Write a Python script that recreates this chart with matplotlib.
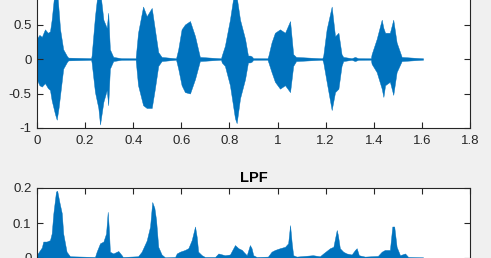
import matplotlib
matplotlib.use("Agg")
import matplotlib.pyplot as plt
import numpy as np

# ---- data: envelope of the raw waveform (time s, upper, lower) ----
wave_t = [0.000, 0.010, 0.020, 0.033, 0.045, 0.054, 0.061, 0.075, 0.082, 0.090, 0.096, 0.109, 0.125, 0.130,
          0.225, 0.227, 0.241, 0.255, 0.262, 0.276, 0.290, 0.296, 0.303, 0.317, 0.350,
          0.410, 0.420, 0.441, 0.456, 0.477, 0.490, 0.504, 0.518,
          0.578, 0.587, 0.601, 0.615, 0.636, 0.657, 0.677,
          0.765, 0.768, 0.781, 0.802, 0.823, 0.830, 0.844, 0.865, 0.877, 0.885, 0.892, 0.899,
          0.958, 0.962, 0.975, 0.989, 1.010, 1.031, 1.052, 1.065, 1.077,
          1.186, 1.190, 1.204, 1.225, 1.239, 1.253, 1.266, 1.273,
          1.308, 1.322, 1.335,
          1.388, 1.391, 1.412, 1.433, 1.440, 1.447, 1.467, 1.481, 1.495, 1.516, 1.605]
wave_hi = [0.30, 0.35, 0.32, 0.43, 0.38, 0.40, 0.57, 1.05, 1.05, 0.70, 0.43, 0.14, 0.04, 0.02,
           0.012, 0.05, 0.62, 1.05, 1.00, 0.57, 0.45, 0.67, 0.14, 0.03, 0.012,
           0.01, 0.38, 0.76, 0.62, 0.74, 0.43, 0.10, 0.03,
           0.01, 0.14, 0.43, 0.50, 0.55, 0.33, 0.03,
           0.01, 0.05, 0.19, 0.57, 1.05, 0.90, 0.57, 0.29, 0.05, 0.05, 0.04, 0.012,
           0.01, 0.05, 0.24, 0.38, 0.43, 0.38, 0.55, 0.07, 0.03,
           0.01, 0.05, 0.43, 0.76, 0.33, 0.38, 0.07, 0.03,
           0.012, 0.03, 0.012,
           0.01, 0.07, 0.29, 0.57, 0.45, 0.38, 0.38, 0.57, 0.24, 0.03, 0.01]
wave_lo = [-0.30, -0.38, -0.40, -0.35, -0.42, -0.45, -0.60, -0.80, -0.88, -0.70, -0.52, -0.14, -0.04, -0.02,
           -0.012, -0.05, -0.48, -0.71, -0.95, -0.62, -0.45, -0.67, -0.14, -0.03, -0.012,
           -0.01, -0.38, -0.67, -0.71, -0.71, -0.43, -0.10, -0.03,
           -0.01, -0.14, -0.38, -0.48, -0.50, -0.29, -0.03,
           -0.01, -0.05, -0.10, -0.38, -0.86, -0.93, -0.57, -0.29, -0.05, -0.05, -0.04, -0.012,
           -0.01, -0.05, -0.19, -0.33, -0.43, -0.38, -0.48, -0.10, -0.03,
           -0.01, -0.05, -0.33, -0.74, -0.48, -0.43, -0.10, -0.03,
           -0.012, -0.03, -0.012,
           -0.01, -0.07, -0.19, -0.43, -0.55, -0.38, -0.33, -0.52, -0.19, -0.03, -0.01]

# ---- data: low-pass filtered envelope (time s, value) ----
lpf_t = [0.000, 0.020, 0.026, 0.040, 0.054, 0.061, 0.068, 0.079, 0.084, 0.093, 0.103, 0.109, 0.123, 0.137,
         0.241, 0.248, 0.262, 0.276, 0.287, 0.294, 0.299, 0.303, 0.317, 0.338, 0.352, 0.357,
         0.420, 0.435, 0.456, 0.470, 0.479, 0.488, 0.495, 0.504, 0.518, 0.532,
         0.574, 0.581, 0.594, 0.615, 0.629, 0.643, 0.657, 0.664, 0.670, 0.685, 0.698,
         0.740, 0.754, 0.781, 0.802, 0.823, 0.837, 0.852, 0.858, 0.872, 0.885, 0.892, 0.899, 0.913,
         0.960, 0.975, 0.989, 1.010, 1.031, 1.044, 1.052, 1.059, 1.065, 1.079,
         1.147, 1.176, 1.190, 1.218, 1.232, 1.246, 1.251, 1.259, 1.273, 1.287,
         1.308, 1.322, 1.329, 1.338, 1.363,
         1.417, 1.433, 1.446, 1.467, 1.477, 1.485, 1.495, 1.509, 1.530, 1.543, 1.605]
lpf_v = [0.010, 0.030, 0.047, 0.047, 0.051, 0.070, 0.128, 0.190, 0.192, 0.160, 0.128, 0.070, 0.018, 0.005,
         0.003, 0.018, 0.042, 0.047, 0.070, 0.132, 0.080, 0.018, 0.013, 0.020, 0.008, 0.003,
         0.005, 0.018, 0.050, 0.090, 0.160, 0.143, 0.109, 0.032, 0.010, 0.002,
         0.003, 0.013, 0.018, 0.023, 0.028, 0.051, 0.090, 0.060, 0.018, 0.008, 0.003,
         0.003, 0.013, 0.008, 0.010, 0.037, 0.028, 0.023, 0.018, 0.008, 0.037, 0.028, 0.008, 0.003,
         0.004, 0.018, 0.023, 0.028, 0.032, 0.042, 0.094, 0.042, 0.008, 0.004,
         0.008, 0.005, 0.013, 0.028, 0.032, 0.080, 0.065, 0.028, 0.018, 0.013,
         0.010, 0.023, 0.028, 0.008, 0.004,
         0.006, 0.018, 0.023, 0.023, 0.090, 0.090, 0.032, 0.008, 0.013, 0.003, 0.002]

x_ticks = [0, 0.2, 0.4, 0.6, 0.8, 1.0, 1.2, 1.4, 1.6, 1.8]
x_ticklabels = ["0", "0.2", "0.4", "0.6", "0.8", "1", "1.2", "1.4", "1.6", "1.8"]
top_yticks = [-1, -0.5, 0, 0.5, 1]
top_yticklabels = ["-1", "-0.5", "0", "0.5", "1"]
bot_yticks = [-0.2, -0.1, 0, 0.1, 0.2]
bot_yticklabels = ["-0.2", "-0.1", "0", "0.1", "0.2"]

BLUE = "#0072BD"
DARK = "#262626"
plt.rcParams["font.family"] = ["Liberation Sans", "DejaVu Sans"]

W, H = 491, 258
fig = plt.figure(figsize=(W / 100, H / 100), dpi=100, facecolor="#F0F0F0")

def px_axes(left, top, right, bottom):
    return fig.add_axes([left / W, (H - bottom) / H, (right - left) / W, (bottom - top) / H])

def style(ax):
    ax.set_facecolor("white")
    for s in ax.spines.values():
        s.set_color(DARK)
        s.set_linewidth(0.8)
    ax.tick_params(direction="in", length=4, width=0.8, colors=DARK, labelsize=9.5,
                   top=True, right=True)
    ax.tick_params(axis="x", pad=5)
    ax.tick_params(axis="y", pad=4)
    ax.set_xlim(0, 1.8)
    ax.set_xticks(x_ticks)
    ax.set_xticklabels(x_ticklabels)

ax1 = px_axes(37, -10, 470, 128)
style(ax1)
ax1.fill_between(wave_t, wave_lo, wave_hi, color=BLUE, linewidth=0.3, edgecolor=BLUE)
ax1.set_ylim(-1, 1)
ax1.set_yticks(top_yticks)
ax1.set_yticklabels(top_yticklabels)

ax2 = px_axes(37, 188, 470, 328)
style(ax2)
ax2.fill_between(lpf_t, 0, lpf_v, color=BLUE, linewidth=0.3, edgecolor=BLUE)
ax2.set_ylim(-0.2, 0.2)
ax2.set_yticks(bot_yticks)
ax2.set_yticklabels(bot_yticklabels)
ax2.set_title("LPF", fontsize=10.5, fontweight="bold", color="black", pad=4)

fig.savefig("out.png", dpi=100, facecolor=fig.get_facecolor())
